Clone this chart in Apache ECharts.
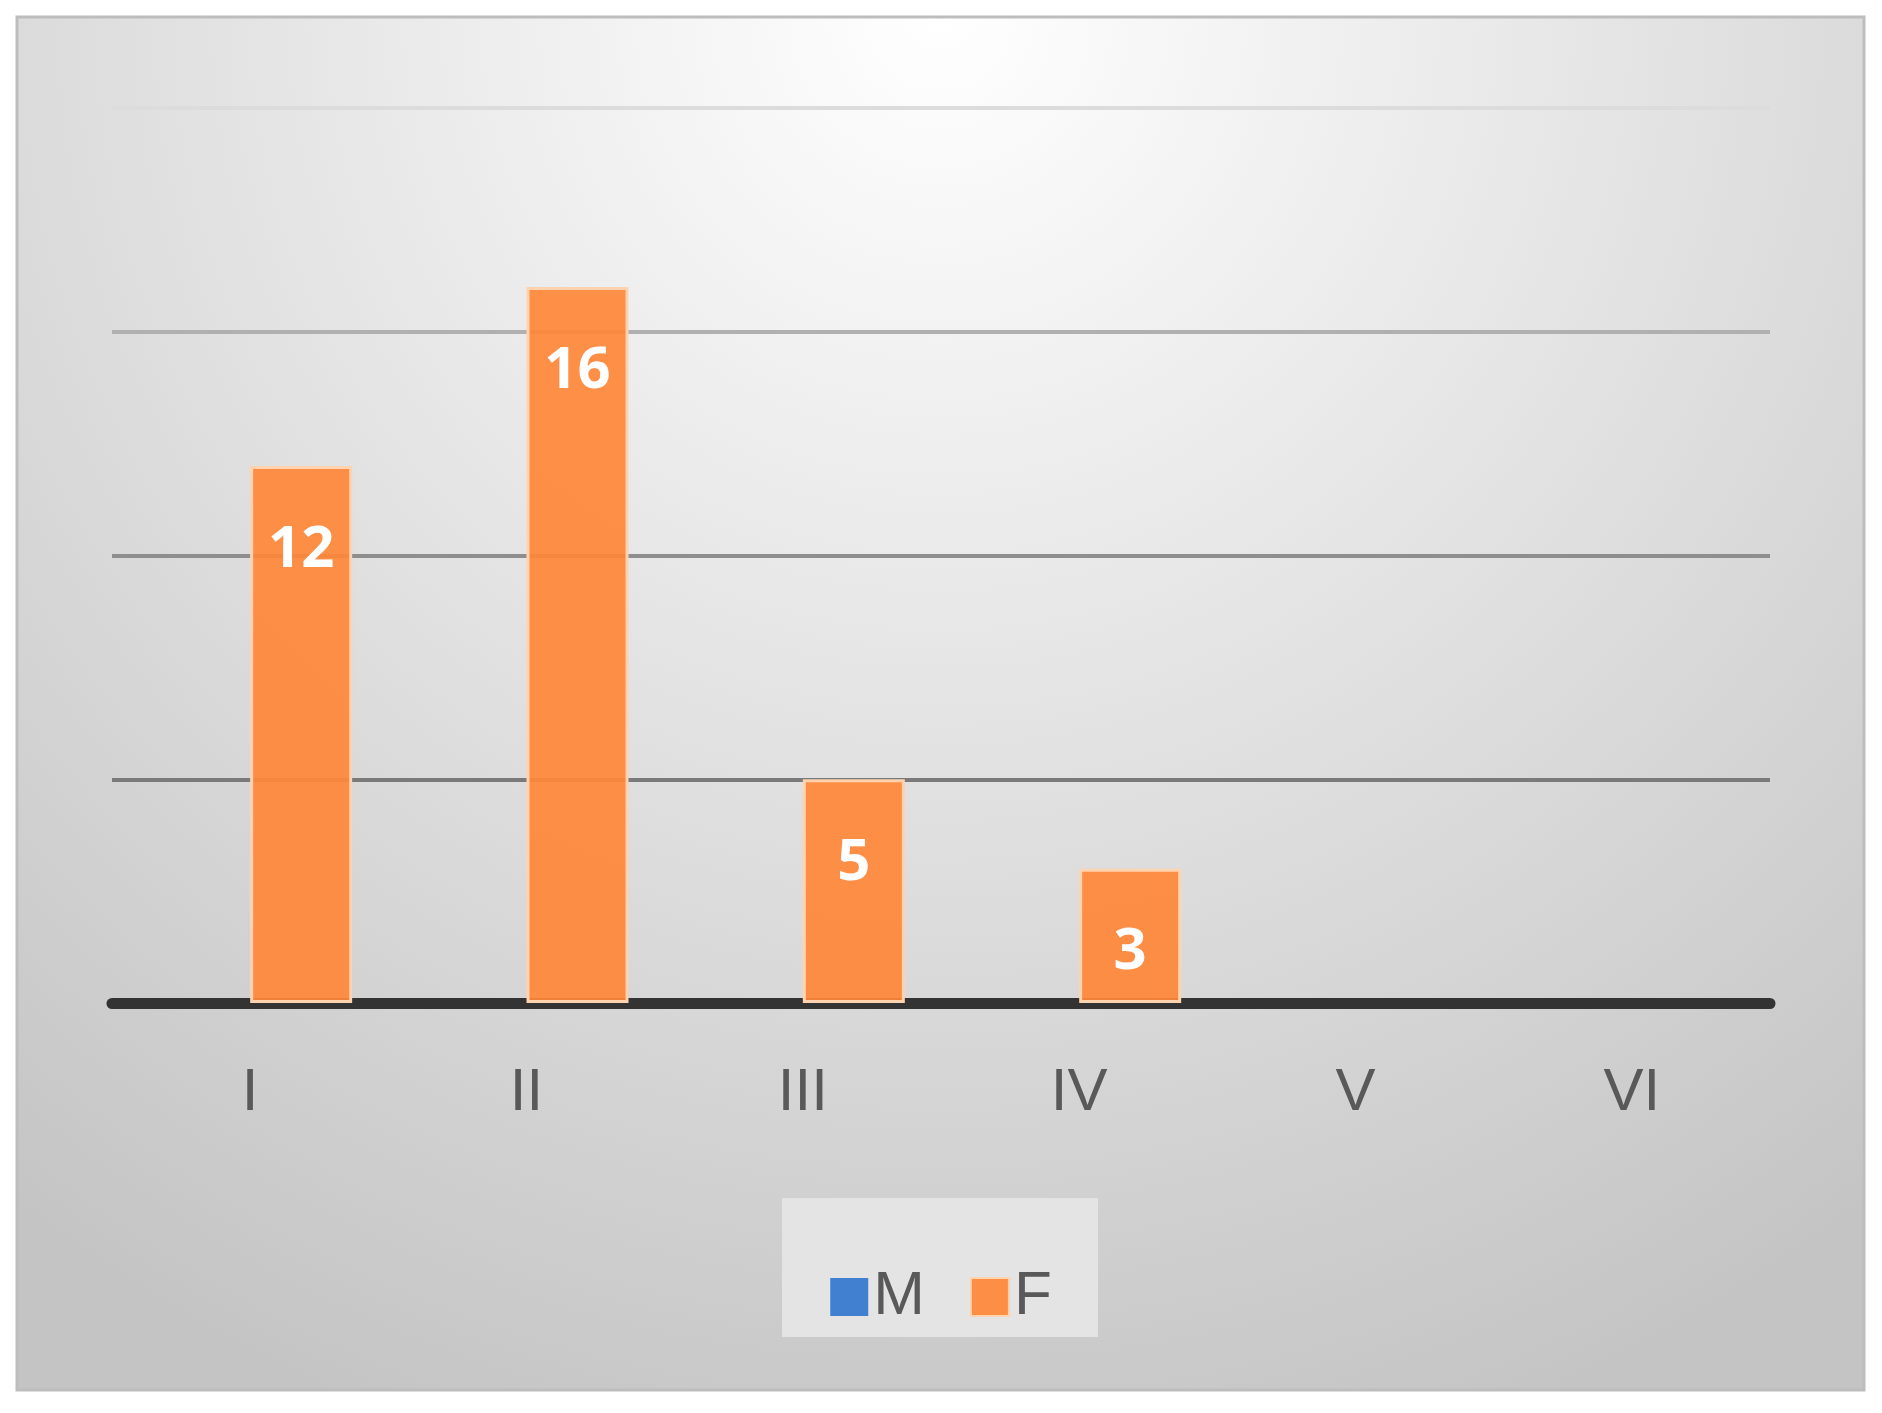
<!DOCTYPE html>
<html><head><meta charset="utf-8">
<script src="https://cdn.jsdelivr.net/npm/echarts@6/dist/echarts.min.js"></script>
<style>html,body{margin:0;padding:0;background:#fff}#c{width:1882px;height:1413px}</style>
</head><body><div id="c"></div>
<script>
const categories = ['I','II','III','IV','V','VI'];
const mValues = [0,0,0,0,0,0];
const fValues = [12,16,5,3,null,null];
const chart = echarts.init(document.getElementById('c'));
chart.setOption({
  graphic:[
    {type:'rect',shape:{x:17,y:17,width:1847,height:1373},z:-10,
     style:{fill:new echarts.graphic.RadialGradient(0.5,0,1.1,[{offset:0,color:'#ffffff'},{offset:1,color:'#c4c4c4'}]),stroke:'#bdbdbd',lineWidth:3}},
    {type:'rect',shape:{x:782,y:1198,width:316,height:139},z:-5,style:{fill:'rgba(232,232,232,0.85)'}}
  ],
  grid:{left:112,right:112,top:108,bottom:410,containLabel:false},
  legend:{data:['M','F'],bottom:80,left:'center',itemWidth:38,itemHeight:38,itemGap:45,
    textStyle:{fontSize:62,color:'#595959',fontFamily:'Liberation Sans'},icon:'rect'},
  xAxis:{type:'category',data:categories,
    axisLine:{lineStyle:{color:'#333',width:11}},axisTick:{show:false},
    axisLabel:{fontSize:60,color:'#595959',margin:60,fontFamily:'Liberation Sans'}},
  yAxis:{type:'value',min:0,max:20,interval:5,axisLabel:{show:false},
    splitLine:{lineStyle:{color:['#555','#7a7a7a','#8e8e8e','#b0b0b0','#dcdcdc'],width:4}}},
  series:[
    {name:'M',type:'bar',data:mValues,barWidth:102,barGap:'0%',itemStyle:{color:'#4180d0'}},
    {name:'F',type:'bar',data:fValues,barWidth:102,barGap:'0%',
     itemStyle:{color:'rgba(255,135,55,0.92)',borderColor:'#ffd2b0',borderWidth:3},
     label:{show:true,position:'insideTop',distance:55,color:'#fff',fontWeight:'bold',fontSize:58,fontFamily:'Open Sans'}}
  ]
});
</script></body></html>
